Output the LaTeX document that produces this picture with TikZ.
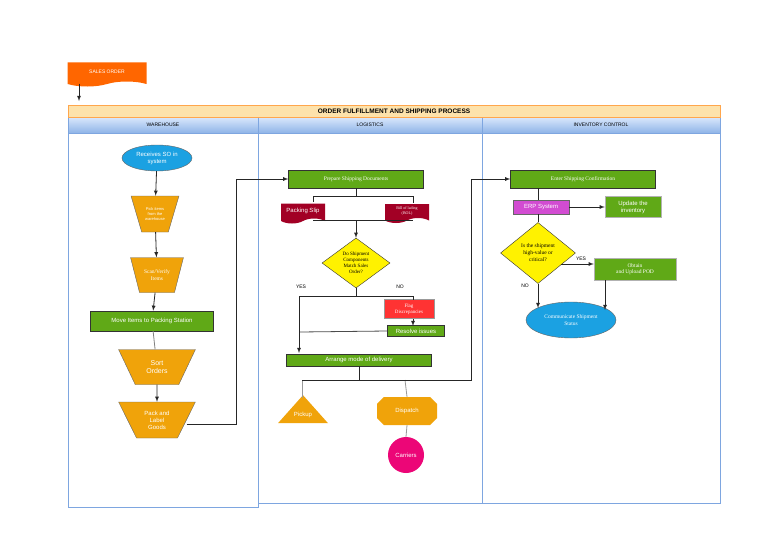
\documentclass[tikz,border=0pt]{standalone}
\usepackage{fontspec}
\usepackage{tikz}
\usetikzlibrary{positioning, arrows, shapes.geometric, shapes.misc, shapes.symbols, calc}
\setmainfont{Liberation Serif}
\newfontfamily\sansf{Liberation Sans}
\definecolor{ogreen}{HTML}{60A917}
\definecolor{oorange}{HTML}{F0A30A}
\definecolor{oblue}{HTML}{1BA1E2}
\definecolor{ored}{HTML}{A20025}
\definecolor{lanebd}{HTML}{7EA6E0}
\definecolor{hdtop}{HTML}{DAE8FC}
\definecolor{hdbot}{HTML}{8FB4E8}
\tikzset{
  txt/.style={font=\sansf\fontsize{5}{6}\selectfont, text=white, align=center, inner sep=1pt},
  stxt/.style={font=\fontsize{5.5}{6.5}\selectfont, text=white, align=center, inner sep=1pt},
  gbox/.style={draw=black!80, fill=ogreen, rectangle, inner sep=0pt},
  trap/.style={draw=black!60, fill=oorange, trapezium, shape border rotate=180, trapezium stretches=true, inner sep=0pt},
  doc/.style={draw=none, fill=ored, tape, tape bend top=none, inner sep=0pt},
  dia/.style={draw=black!80, fill=yellow, diamond, inner sep=0pt, font=\fontsize{5}{6}\selectfont, align=center},
  arr/.style={-latex, thick, black!85},
  ln/.style={thick, black!85},
  lbl/.style={font=\sansf\fontsize{5}{6}\selectfont, inner sep=0pt}
}
\begin{document}
\begin{tikzpicture}[x=1pt, y=-1pt]
  \useasboundingbox (0,0) rectangle (768,543);

  % lanes
  \fill [fill=white, draw=lanebd] (68,133) rectangle (258,507);
  \fill [fill=white, draw=lanebd] (258,133) rectangle (482,503);
  \fill [fill=white, draw=lanebd] (482,133) rectangle (720,503);
  \shade [top color=hdtop, bottom color=hdbot, draw=lanebd] (68,117) rectangle (258,133);
  \shade [top color=hdtop, bottom color=hdbot, draw=lanebd] (258,117) rectangle (482,133);
  \shade [top color=hdtop, bottom color=hdbot, draw=lanebd] (482,117) rectangle (720,133);
  \fill [fill=yellow!30!orange!30, draw=orange!70] (68,105) rectangle (720,117);
  \node [lbl, font=\sansf\bfseries\fontsize{6.5}{7}\selectfont] (title) at (394,111) {ORDER FULFILLMENT AND SHIPPING PROCESS};
  \node [lbl] (hwh) at (163,125) {WAREHOUSE};
  \node [lbl] (hlog) at (370,125) {LOGISTICS};
  \node [lbl] (hinv) at (601,125) {INVENTORY CONTROL};

  % sales order
  \node [doc, fill=orange!80!red, minimum width=79, minimum height=24, txt] (so) at (107,72) {SALES ORDER};
  \coordinate (soend) at (79,101);
  \draw [arr] (so.south west -| soend) ++(0,2) -- (soend);

  % warehouse
  \node [ellipse, draw=black!60, fill=oblue, minimum width=70, minimum height=26, txt, font=\sansf\fontsize{6}{7}\selectfont] (recv) at (157,158) {Receives SO in\\system};
  \node [trap, minimum width=48, minimum height=36, txt, font=\sansf\fontsize{4}{5}\selectfont] (pick) at (155,214) {Pick items\\from the\\warehouse};
  \node [trap, minimum width=53, minimum height=35, stxt] (scan) at (157,275) {Scan/Verify\\Items};
  \node [gbox, minimum width=123, minimum height=20, txt, font=\sansf\fontsize{6}{7}\selectfont] (move) at (152,321) {Move Items to Packing Station};
  \node [trap, minimum width=77, minimum height=35, txt, font=\sansf\fontsize{7}{8.5}\selectfont] (sort) at (157,367) {Sort\\Orders};
  \node [trap, minimum width=77, minimum height=36, txt, font=\sansf\fontsize{6}{7}\selectfont] (pack) at (157,420) {Pack and\\Label\\Goods};
  \draw [arr] (recv) -- (pick);
  \draw [arr] (pick) -- (scan);
  \draw [arr] (scan) -- (move);
  \draw [ln, black!50] (move) -- (sort);
  \draw [arr] (sort) -- (pack);

  % logistics
  \node [gbox, minimum width=135, minimum height=18, stxt] (prep) at (356,179) {Prepare Shipping Documents};
  \draw [arr] (pack.east |- 0,424) -- (236,424) |- (prep.west);
  \node [doc, minimum width=44, minimum height=20, txt, font=\sansf\fontsize{6}{7}\selectfont] (slip) at (303,211) {Packing Slip};
  \node [doc, minimum width=44, minimum height=19, stxt, font=\fontsize{4}{5}\selectfont] (bol) at (407,211) {Bill of lading\\(BOL)};
  \node [dia, minimum width=68, minimum height=50] (match) at (356,263) {Do Shipment\\Components\\Match Sales\\Order?};
  \draw [ln] (prep.south) -- (356,196);
  \draw [ln] (313,202) |- (413,196) -- (413,203);
  \draw [ln] (313,220) -- (413,220);
  \draw [arr] (356,220) -- (match.north);
  \node [lbl] (yes1) at (301,287) {YES};
  \node [lbl] (no1) at (400,287) {NO};
  \node [rectangle, draw=black!40, fill=red!80, minimum width=50, minimum height=19, stxt, font=\fontsize{5}{6}\selectfont] (flag) at (409,309) {Flag\\Discrepancies};
  \node [gbox, minimum width=57, minimum height=11, txt, font=\sansf\fontsize{6}{7}\selectfont] (resolve) at (416,331) {Resolve issues};
  \node [gbox, minimum width=145, minimum height=12, txt, font=\sansf\fontsize{6}{7}\selectfont] (arrange) at (359,360) {Arrange mode of delivery};
  \draw [ln] (match.south) -- (356,296);
  \draw [ln] (299,296) -- (413,296) -- (413,300);
  \draw [arr] (299,296) -- (299,353);
  \draw [arr] (413,319) -- (413,326);
  \draw [ln, black!70] (resolve.west) -- (300,332);
  \node [isosceles triangle, shape border rotate=90, isosceles triangle stretches, draw=none, fill=oorange, minimum width=50, minimum height=28, inner sep=0pt] (pickup) at (303,412) {};
  \node [txt, font=\sansf\fontsize{6}{7}\selectfont] (pickupt) at (303,415) {Pickup};
  \node [chamfered rectangle, chamfered rectangle xsep=9pt, fill=oorange, draw=none, minimum width=60, minimum height=28, txt, font=\sansf\fontsize{6}{7}\selectfont] (dispatch) at (407,411) {Dispatch};
  \node [circle, fill=magenta!80!red, minimum size=36, inner sep=0pt, txt, font=\sansf\fontsize{6}{7}\selectfont] (carriers) at (406,455) {Carriers};
  \node [gbox, minimum width=145, minimum height=18, stxt] (enter) at (583,179) {Enter Shipping Confirmation};
  \draw [ln] (arrange.south) -- (359,380);
  \draw [ln, black!40] (302,380) -- (302,398);
  \draw [ln, black!40] (405,380) -- (dispatch.north);
  \draw [ln, black!40] (dispatch.south) -- (carriers.north);
  \draw [arr] (302,380) -- (471,380) |- (enter.west);

  % inventory control
  \node [rectangle, draw=black!60, fill=violet!50!magenta!70, minimum width=56, minimum height=14, txt, font=\sansf\fontsize{6}{7}\selectfont, inner sep=0pt] (erp) at (541,207) {ERP System};
  \node [gbox, draw=black!30, minimum width=56, minimum height=21, txt, font=\sansf\fontsize{6}{7}\selectfont] (update) at (633,207) {Update the\\inventory};
  \node [dia, minimum width=75, minimum height=61, font=\fontsize{5.5}{7}\selectfont] (crit) at (538,253) {Is the shipment\\high-value or\\critical?};
  \node [gbox, draw=black!30, minimum width=82, minimum height=22, stxt] (pod) at (635,269) {Obtain\\and Upload POD};
  \node [ellipse, draw=black!60, fill=oblue, minimum width=90, minimum height=36, stxt] (comm) at (571,320) {Communicate Shipment\\Status};
  \draw [ln] (538,188) -- (538,200);
  \draw [arr] (erp.east) -- (update.west);
  \draw [ln] (538,214) -- (crit.north);
  \draw [arr] (561,264) -- (pod.west |- 0,264);
  \node [lbl] (yes2) at (581,259) {YES};
  \node [lbl] (no2) at (525,286) {NO};
  \draw [arr] (crit.south) -- (538,308);
  \draw [arr] (605,280) -- (605,310);

\end{tikzpicture}
\end{document}
